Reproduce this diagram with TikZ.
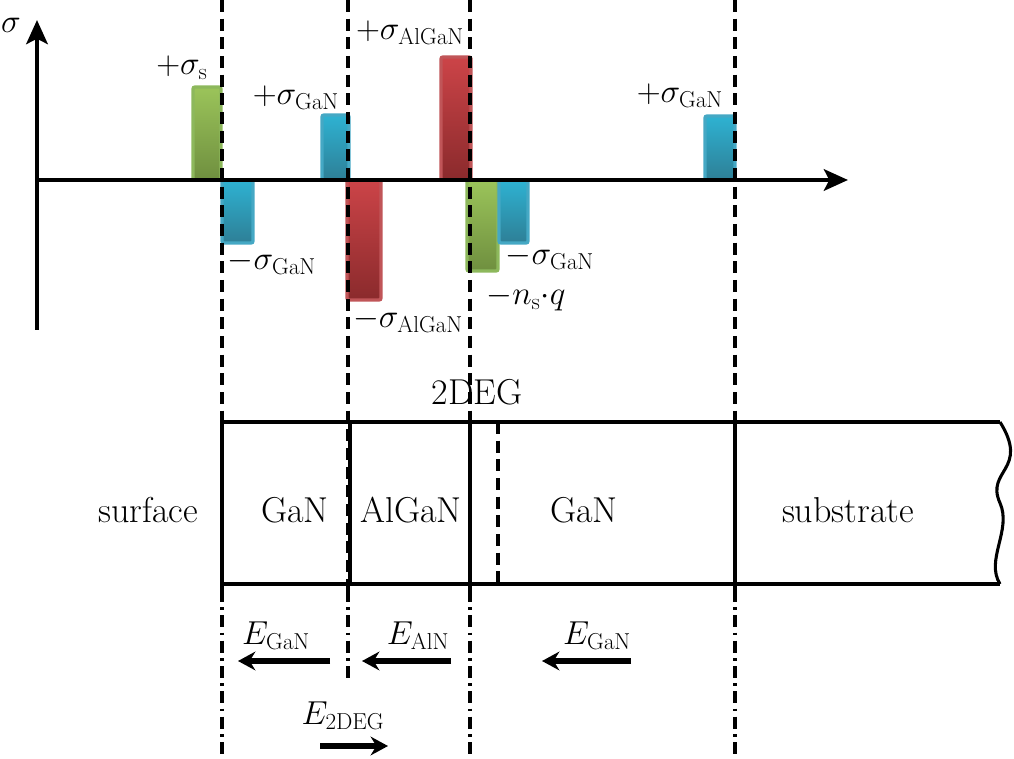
\documentclass[tikz,border=0pt]{standalone}
\usetikzlibrary{arrows.meta}
\begin{document}
\begin{tikzpicture}[x=0.75pt,y=-0.75pt,font=\fontsize{27}{32}\selectfont,
  ax/.style={line width=3.5pt,-{Stealth[length=18pt,width=16pt,inset=4pt]}},
  dl/.style={line width=2.6pt,dash pattern=on 9pt off 5pt},
  ddl/.style={line width=2.6pt,dash pattern=on 9pt off 4pt on 2pt off 4pt},
  ea/.style={line width=3.8pt,-{Stealth[length=13pt,width=14pt]}}]
\definecolor{gt}{HTML}{9BC45A}\definecolor{gb}{HTML}{6F8F3F}\definecolor{gd}{HTML}{8DB85C}
\definecolor{bt}{HTML}{2EB2D2}\definecolor{bb}{HTML}{2E7F96}\definecolor{bd}{HTML}{45A8C4}
\definecolor{rt}{HTML}{CC4448}\definecolor{rb}{HTML}{8A2A2C}\definecolor{rd}{HTML}{C05558}
\tikzset{G/.style={draw=gd,line width=2.5pt,rounded corners=1.5pt,top color=gt,bottom color=gb},
 B/.style={draw=bd,line width=2.5pt,rounded corners=1.5pt,top color=bt,bottom color=bb},
 R/.style={draw=rd,line width=2.5pt,rounded corners=1.5pt,top color=rt,bottom color=rb}}
\useasboundingbox (0,0) rectangle (1014,759);
% bars
\path[G] (193,87) rectangle (221,180);
\path[B] (222,180) rectangle (253,243);
\path[B] (322,115) rectangle (349,180);
\path[R] (347,180) rectangle (381,300);
\path[R] (441,57) rectangle (471,180);
\path[G] (467,180) rectangle (498,271);
\path[B] (499,180) rectangle (528,243);
\path[B] (705,116) rectangle (735,180);
% axes
\coordinate (o) at (37,180);
\coordinate (yb) at (37,330);\coordinate (yt) at (37,20);\coordinate (xe) at (848,180);
\draw[ax] (yb) -- (yt);
\draw[ax] (o) -- (xe);
% dashed verticals
\foreach \x/\e in {222/759,348/682,470/759,735/759}{
 \draw[dl] (\x,0) -- (\x,590);
 \draw[ddl] (\x,590) -- (\x,\e);}
% labels
\node at (11,25) {$\sigma$};
\node at (182,68) {$+\sigma_{\rm s}$};
\node at (296,98) {$+\sigma_{\rm GaN}$};
\node at (410,33) {$+\sigma_{\rm AlGaN}$};
\node at (680,96) {$+\sigma_{\rm GaN}$};
\node at (272,262) {$-\sigma_{\rm GaN}$};
\node at (408,320) {$-\sigma_{\rm AlGaN}$};
\node at (550,257) {$-\sigma_{\rm GaN}$};
\node at (526,298) {$-n_{\rm s}{\cdot}q$};
% layers
\draw[line width=2.3pt] (1000,422) -- (222,422) -- (222,584) -- (1000,584);
\draw[line width=2.3pt] (1000,422) .. controls (1030,470) and (985,470) .. (1000,503) .. controls (1012,530) and (985,560) .. (1000,584);
\draw[line width=2.6pt] (350,422) -- (350,584);
\draw[line width=2.6pt] (470,422) -- (470,584);
\draw[line width=3pt] (735,422) -- (735,584);
\draw[dl] (498,422) -- (498,584);
\node at (477,392) {2DEG};
\node at (148,510) {surface};
\node at (295,510) {GaN};
\node at (411,510) {AlGaN};
\node at (584,510) {GaN};
\node at (848,510) {substrate};
% fields
\node at (276,636) {$E_{\rm GaN}$};
\node at (418,636) {$E_{\rm AlN}$};
\node at (597,636) {$E_{\rm GaN}$};
\node at (343,716) {$E_{\rm 2DEG}$};
\coordinate (a1) at (330,661);\coordinate (a2) at (238,661);
\coordinate (b1) at (451,661);\coordinate (b2) at (362,661);
\coordinate (c1) at (631,661);\coordinate (c2) at (542,661);
\coordinate (d1) at (320,746);\coordinate (d2) at (388,746);
\draw[ea] (a1) -- (a2);\draw[ea] (b1) -- (b2);\draw[ea] (c1) -- (c2);\draw[ea] (d1) -- (d2);
\end{tikzpicture}
\end{document}
